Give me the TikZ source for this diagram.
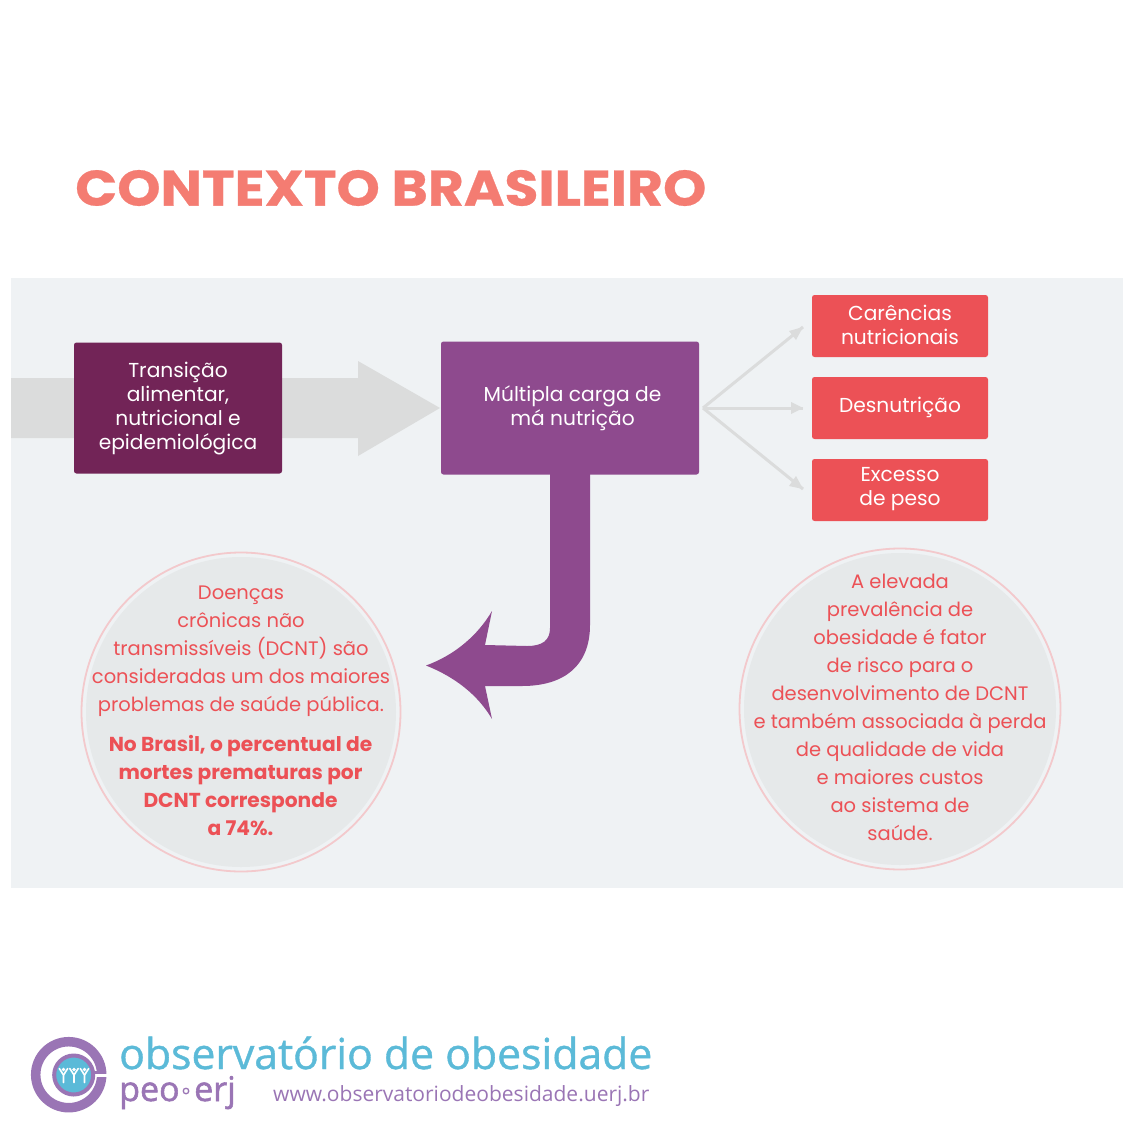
\documentclass[tikz,border=0pt]{standalone}
\usepackage{fontspec}
\setmainfont{Poppins}
\newfontfamily\titlefont[FakeStretch=1.103,FakeBold=0.5]{Poppins}
\newfontfamily\logofont[FakeBold=0.9]{Open Sans}
\newfontfamily\peofont[FakeBold=1.6]{Open Sans}
\newfontfamily\urlfont{Open Sans}
\definecolor{coral}{HTML}{F47C72}
\definecolor{panel}{HTML}{EFF2F4}
\definecolor{wine}{HTML}{722457}
\definecolor{plum}{HTML}{8E4A8E}
\definecolor{redbox}{HTML}{EC5156}
\definecolor{greyarrow}{HTML}{DBDCDC}
\definecolor{disc}{HTML}{E6E9EA}
\definecolor{ringpink}{HTML}{F3C9CC}
\definecolor{teal}{HTML}{5BBAD8}
\definecolor{lilac}{HTML}{9A75B5}
\tikzset{
  x=1pt,y=-1pt,
  box/.style={rectangle,rounded corners=2.5pt,inner sep=0pt,align=center,text=white,font=\fontsize{20.2}{24}\selectfont},
  redcard/.style={box,fill=redbox,minimum width=176pt,minimum height=62pt},
  thin arrow/.style={draw=greyarrow,line width=3pt},
  round disc/.style={circle,fill=disc,draw=none,inner sep=0pt,minimum size=310pt},
  ring/.style={circle,draw=ringpink,line width=1.8pt,inner sep=0pt},
  disctext/.style={align=center,text=redbox,font=\fontsize{19.5}{28}\selectfont},
}
\begin{document}
\begin{tikzpicture}
\useasboundingbox (0,0) rectangle (1134,1134);
\fill[white] (0,0) rectangle (1134,1134);
\fill[panel] (11,278) rectangle (1123,888);
\node[anchor=west,text=coral,font=\titlefont\fontsize{50}{50}\selectfont\bfseries,inner sep=0pt] (title) at (75,188) {CONTEXTO BRASILEIRO};
% big grey arrow
\fill[greyarrow] (11,378) -- (358,378) -- (358,361) -- (440,408) -- (358,456) -- (358,438) -- (11,438) -- cycle;
\node[box,fill=wine,minimum width=208pt,minimum height=131pt] (trans) at (178,408) {};
\node[box] (transtext) at (178,409) {Transição\\alimentar,\\nutricional e\\epidemiológica};
\node[box,fill=plum,minimum width=258pt,minimum height=133pt] (mult) at (570,408) {};
\node[box] (multtext) at (572.5,408) {Múltipla carga de\\má nutrição};
% J arrow
\fill[plum] (550,470) -- (550,628) .. controls (550,640) and (543,646) .. (527,646) -- (485,645)
  -- (492,611) .. controls (478,635) and (455,655) .. (426,665.5) .. controls (455,677) and (478,695) .. (492,719)
  -- (485,686) -- (522,686) .. controls (565,686) and (590,665) .. (590,625) -- (590,470) -- cycle;
\node[redcard] (car) at (900,326) {};
\node[box] (cartext) at (900,324.5) {Carências\\nutricionais};
\node[redcard] (des) at (900,408) {};
\node[box] (destext) at (900,407) {Desnutrição};
\node[redcard] (exc) at (900,490) {};
\node[box] (exctext) at (900,489) {Excesso\\de peso};
\coordinate (hub) at (703,408);
\coordinate (carend) at (803,327);
\coordinate (desend) at (803,408);
\coordinate (excend) at (803,489);
\begin{scope}[thin arrow]
\draw (hub) -- (carend);
\draw (hub) -- (desend);
\draw (hub) -- (excend);
\end{scope}
\fill[greyarrow] (803,327) -- (789,331) -- (796,340) -- cycle;
\fill[greyarrow] (803,408) -- (791,402) -- (791,414) -- cycle;
\fill[greyarrow] (803,489) -- (796,476) -- (789,486) -- cycle;
% circles
\node[round disc] (dl) at (241,712) {};
\node[ring,minimum size=319pt] (rl) at (241,712) {};
\node[round disc,minimum size=312pt] (dr) at (900,709) {};
\node[ring,minimum size=321pt] (rr) at (900,709) {};
\node[disctext] (tl) at (241,651) {Doenças\\crônicas não\\transmissíveis (DCNT) são\\consideradas um dos maiores\\problemas de saúde pública.};
\node[disctext,font=\fontsize{20.2}{28}\selectfont\bfseries] (tb) at (240.5,786) {No Brasil, o percentual de\\mortes prematuras por\\DCNT corresponde\\a 74\%.};
\node[disctext] (tr) at (900,707) {A elevada\\prevalência de\\obesidade é fator\\de risco para o\\desenvolvimento de DCNT\\e também associada à perda\\de qualidade de vida\\e maiores custos\\ao sistema de\\saúde.};
% logo
\draw[lilac,line width=9.5pt] (68.7,1074.7) circle[radius=33];
\fill[white] (94,1074) rectangle (110,1076.5);
\fill[teal] (73.7,1075) circle[radius=18];
\draw[lilac,line width=4pt] (73.7,1075) circle[radius=19.5];
\draw[lilac,line width=2.6pt] (92,1072.5) -- (102,1072.5);
\begin{scope}[white,line width=1.6pt,line cap=round]
\foreach \p in {63.5,74,84.5}{
 \fill[white] (\p,1069.5) circle[radius=1.8];
 \draw (\p,1082.5) -- (\p,1075) -- (\p-4.2,1068.5);
 \draw (\p,1075) -- (\p+4.2,1068.5);
}
\end{scope}
\node[anchor=base west,inner sep=0pt,text=teal,font=\logofont\fontsize{42.7}{43}\selectfont] (obs) at (119,1069) {observatório de obesidade};
\node[anchor=base west,inner sep=0pt,text=lilac,font=\peofont\fontsize{34}{34}\selectfont] (peo) at (119,1101) {peo};
\node[circle,draw=lilac,line width=1.3pt,inner sep=0pt,minimum size=5.5pt] (dot) at (186,1091) {};
\node[anchor=base west,inner sep=0pt,text=lilac,font=\peofont\fontsize{34}{34}\selectfont] (erj) at (194,1101) {erj};
\node[anchor=base west,inner sep=0pt,text=lilac,font=\urlfont\fontsize{21}{21}\selectfont] (url) at (273,1101) {www.observatoriodeobesidade.uerj.br};
\end{tikzpicture}
\end{document}
